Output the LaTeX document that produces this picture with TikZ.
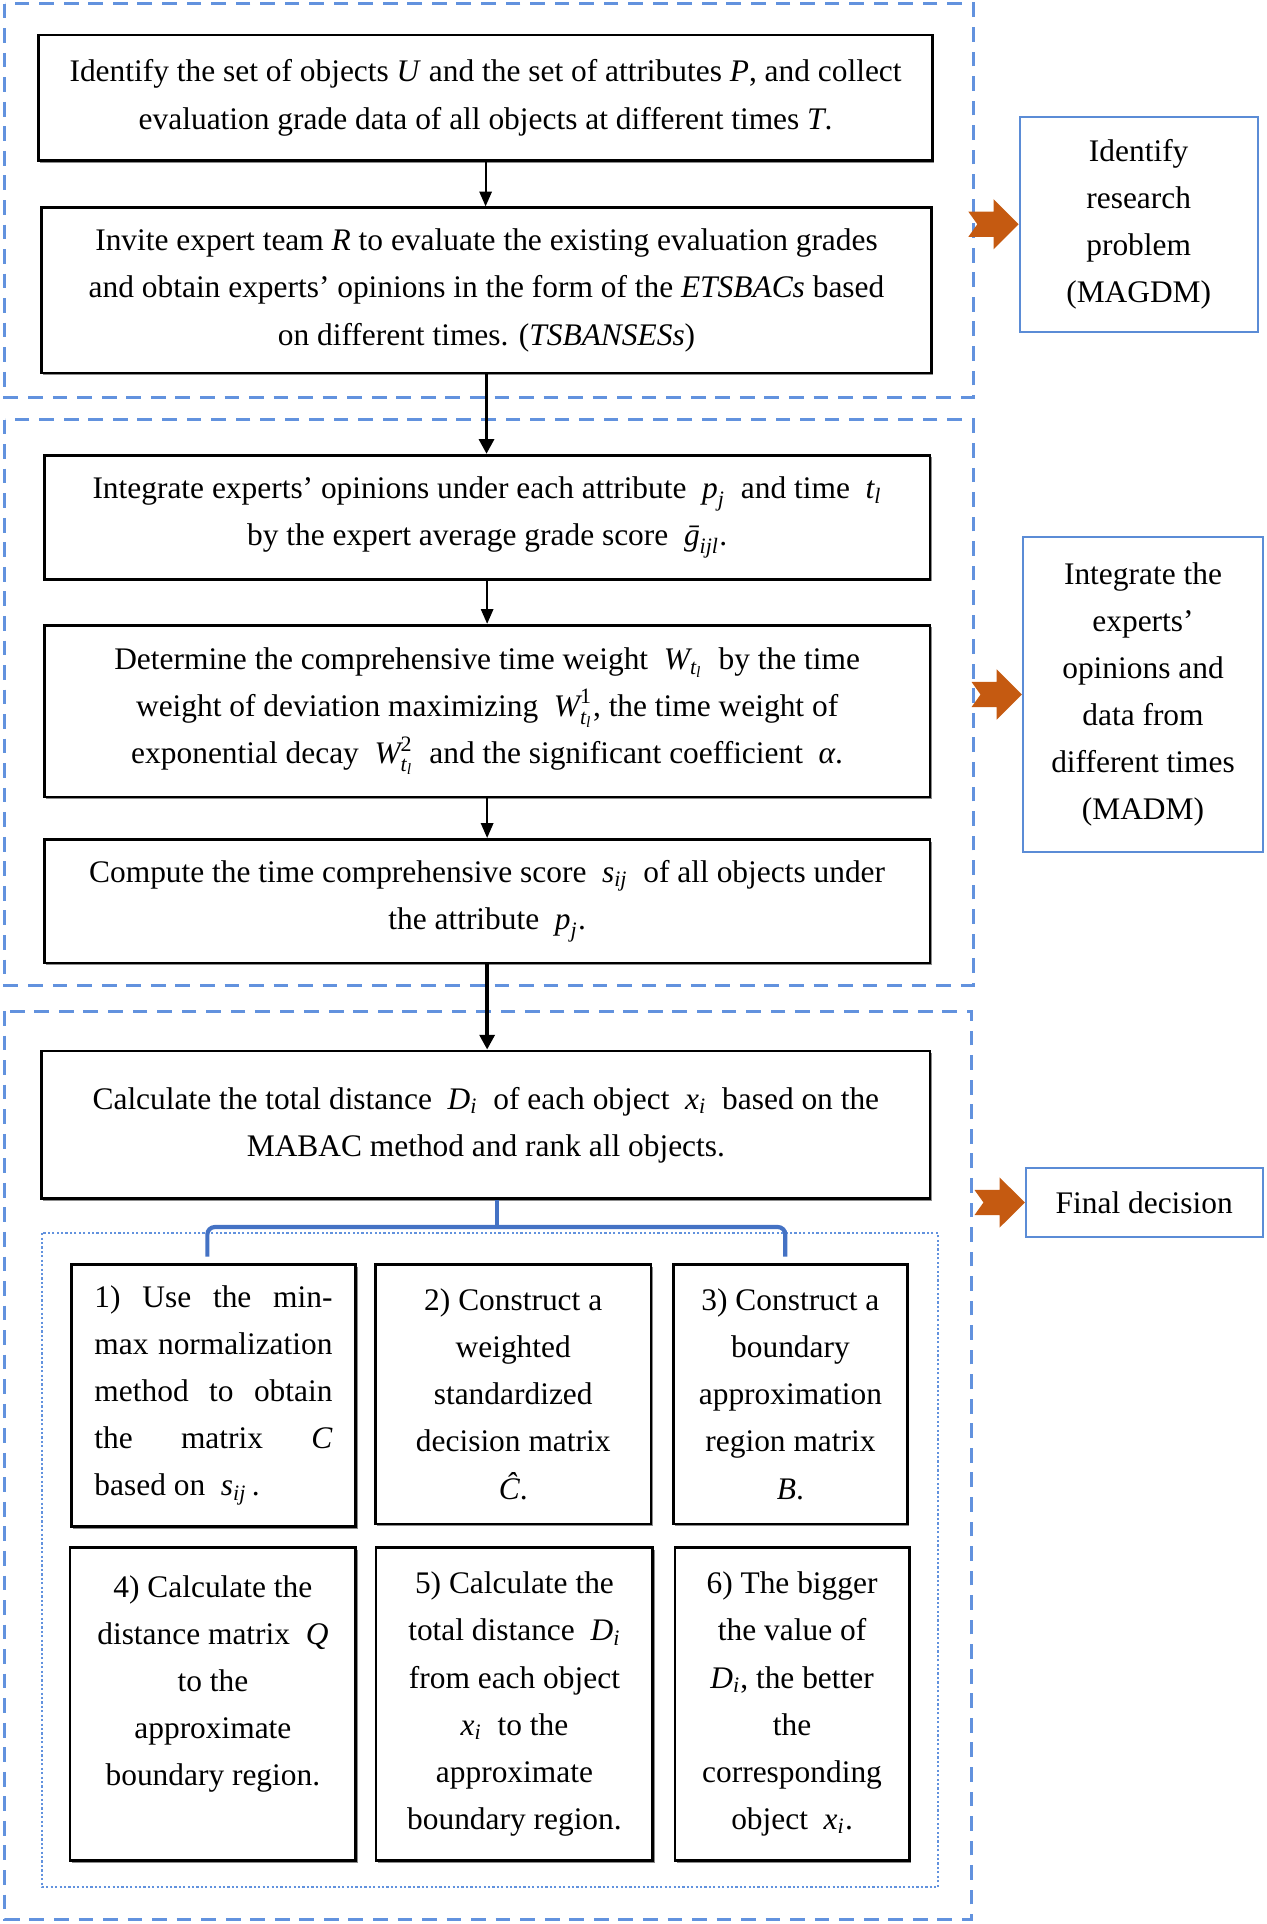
\documentclass[tikz,border=0pt]{standalone}
\usepackage{amsmath}
\usepackage{fontspec}
\setmainfont{Liberation Serif}
\usetikzlibrary{arrows.meta,shadows,calc}
\definecolor{grpblue}{RGB}{98,146,222}
\definecolor{boxblue}{RGB}{91,140,214}
\definecolor{brblue}{RGB}{68,114,196}
\definecolor{orng}{RGB}{197,90,17}
\newcommand{\mvar}[1]{\textit{#1}}
\newcommand{\jline}[1]{\makebox[97pt][s]{#1}}
\newcommand{\orarr}[1]{\fill[orng] ($(#1)+(-41,-10.2)$) -- ++(20.5,0) -- ++(0,-10.2) -- ($(#1)$) -- ($(#1)+(-20.5,20.4)$) -- ++(0,-10.2) -- ++(-20.5,0) -- ($(#1)+(-33.7,0)$) -- cycle;}
\begin{document}
\begin{tikzpicture}[x=0.5pt,y=-0.5pt,
  txt/.style={font=\fontsize{12.8}{19.2}\selectfont, align=center, inner sep=0pt},
  blk/.style={txt, draw=black, line width=1.1pt, fill=white, drop shadow={shadow xshift=0.7pt, shadow yshift=-0.9pt, fill=black!45, opacity=1}},
  side/.style={txt, draw=boxblue, line width=0.8pt, fill=white},
  grp/.style={draw=grpblue, line width=1.2pt, dash pattern=on 6pt off 4pt},
  dotbox/.style={draw=grpblue, line width=1pt, dash pattern=on 0.9pt off 0.9pt},
  thinarr/.style={draw=black, line width=0.8pt, -{Triangle[length=6pt,width=5pt]}},
  thickarr/.style={draw=black, line width=1.5pt, -{Triangle[length=6pt,width=6pt]}},
  bracket/.style={draw=brblue, line width=1.7pt, rounded corners=3pt},
]
\useasboundingbox (0,0) rectangle (1032,1568);

% group frames
\draw[grp] (4,3) rectangle (793,324);
\draw[grp] (4,342) rectangle (793,803);
\draw[grp] (4,824) rectangle (792,1564);
\draw[dotbox] (34.3,1005) rectangle (764.5,1538);

% main boxes
\node[blk, minimum width=364.25pt, minimum height=51.25pt] (A) at (395.75,79.75)
 {Identify the set of objects \mvar{U} and the set of attributes \mvar{P}, and collect\\ evaluation grade data of all objects at different times \mvar{T}.};
\node[blk, minimum width=362.5pt, minimum height=67.35pt] (B) at (396.5,236.65)
 {Invite expert team \mvar{R} to evaluate the existing evaluation grades\\ and obtain experts’ opinions in the form of the \mvar{ETSBACs} based\\ on different times. (\mvar{TSBANSESs})};
\node[blk, minimum width=361pt, minimum height=50.5pt] (C) at (397,421.5)
 {Integrate experts' opinions under each attribute \ $\mvar{p}_{\mvar{j}}$\ \ and time \ $\mvar{t}_{\mvar{l}}$\\ by the expert average grade score \ $\mvar{ḡ}_{\mvar{ijl}}$.};
\node[blk, minimum width=361pt, minimum height=70.05pt] (D) at (397,579.55)
 {Determine the comprehensive time weight \ $\mvar{W}_{\mvar{t}_{\mvar{l}}}$\ \ by the time\\ weight of deviation maximizing \ $\mvar{W}^{\textup{1}}_{\mvar{t}_{\mvar{l}}}$, the time weight of\\ exponential decay \ $\mvar{W}^{\textup{2}}_{\mvar{t}_{\mvar{l}}}$\ \ and the significant coefficient \ \mvar{α}.};
\node[blk, minimum width=361pt, minimum height=50.35pt] (E) at (397,734.35)
 {Compute the time comprehensive score \ $\mvar{s}_{\mvar{ij}}$\ \ of all objects under\\ the attribute \ $\mvar{p}_{\mvar{j}}$.};
\node[blk, minimum width=362pt, minimum height=60.25pt] (F) at (396,916.75)
 {Calculate the total distance \ $\mvar{D}_{\mvar{i}}$\ \ of each object \ $\mvar{x}_{\mvar{i}}$\ \ based on the\\ MABAC method and rank all objects.};

% sub-step boxes
\node[blk, minimum width=116pt, minimum height=106.8pt] (s1) at (174,1137.2)
 {\jline{1) Use the min-}\\ \jline{max normalization}\\ \jline{method to obtain}\\ \jline{the matrix \mvar{C}}\\ \makebox[97pt][l]{based on \ $\mvar{s}_{\mvar{ij}}$\,.}};
\node[blk, minimum width=112.25pt, minimum height=105.8pt] (s2) at (418.25,1136.2)
 {2) Construct a\\ weighted\\ standardized\\ decision matrix\\ \mvar{Ĉ}.};
\node[blk, minimum width=95.2pt, minimum height=105.8pt] (s3) at (644.2,1136.2)
 {3) Construct a\\ boundary\\ approximation\\ region matrix\\ \mvar{B}.};
\node[blk, minimum width=116.5pt, minimum height=127.75pt] (s4) at (173.5,1388.75)
 {4) Calculate the\\ distance matrix \ \mvar{Q}\\ to the\\ approximate\\ boundary region.\\ \mbox{}};
\node[blk, minimum width=112.75pt, minimum height=127.75pt] (s5) at (419.25,1388.75)
 {5) Calculate the\\ total distance \ $\mvar{D}_{\mvar{i}}$\\ from each object\\ $\mvar{x}_{\mvar{i}}$\ \ to the\\ approximate\\ boundary region.};
\node[blk, minimum width=95.5pt, minimum height=127.75pt] (s6) at (645.5,1388.75)
 {6) The bigger\\ the value of\\ $\mvar{D}_{\mvar{i}}$, the better\\ the\\ corresponding\\ object \ $\mvar{x}_{\mvar{i}}$.};

% side boxes
\node[side, minimum width=97pt, minimum height=87.75pt] (R1) at (928,182.75)
 {Identify\\ research\\ problem\\ (MAGDM)};
\node[side, minimum width=97.9pt, minimum height=128pt] (R2) at (931.5,566)
 {Integrate the\\ experts'\\ opinions and\\ data from\\ different times\\ (MADM)};
\node[side, minimum width=96.5pt, minimum height=28pt] (R3) at (932.5,980)
 {Final decision};

% arrows
\draw[thinarr] (A.south) -- (A.south |- B.north);
\draw[thickarr] (B.south) -- (B.south |- C.north);
\draw[thinarr] (C.south) -- (C.south |- D.north);
\draw[thinarr] (D.south) -- (D.south |- E.north);
\draw[thickarr] (E.south) -- (E.south |- F.north);

% bracket
\coordinate (bs) at ($(F.south)+(9,0)$);
\coordinate (bh) at (0,1000);
\coordinate (bl) at (169,1024);
\coordinate (br) at (640,1024);
\draw[bracket] (bl) -- (bl |- bh) -- (br |- bh) -- (br);
\draw[bracket] (bs) -- (bs |- bh);

% orange arrows
\orarr{R1.west}
\orarr{R2.west}
\orarr{R3.west}
\end{tikzpicture}
\end{document}
